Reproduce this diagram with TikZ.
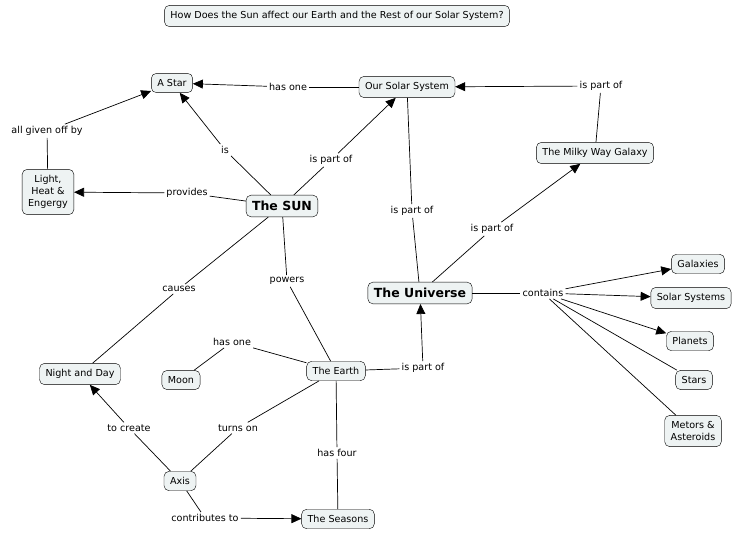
\documentclass[tikz,border=0pt]{standalone}
\usepackage{fontspec}
\setmainfont{DejaVu Sans}
\usetikzlibrary{arrows.meta}
\definecolor{cfill}{HTML}{EEF3F3}
\begin{document}
\begin{tikzpicture}[x=1pt,y=-1pt,
  concept/.style={draw=black,fill=cfill,rounded corners=5pt,font=\fontsize{9.6}{12}\selectfont,inner xsep=6pt,inner ysep=6pt,align=center},
  big/.style={concept,font=\fontsize{12.5}{14}\selectfont\bfseries},
  lbl/.style={font=\fontsize{9.6}{12}\selectfont,inner sep=2pt,fill=white},
  ln/.style={draw=black,line width=0.7pt},
  ar/.style={ln,-{Triangle[length=10pt,width=9pt]}}]
\useasboundingbox (0,0) rectangle (744,533);
\node[concept] (title) at (337,16) {How Does the Sun affect our Earth and the Rest of our Solar System?};
\node[concept] (star) at (172,83) {A Star};
\node[concept] (oss) at (407,87) {Our Solar System};
\node[concept] (mw) at (595,153) {The Milky Way Galaxy};
\node[concept] (light) at (48,192) {Light,\\Heat \&\\Engergy};
\node[big] (sun) at (282,206) {The SUN};
\node[big] (uni) at (420,293) {The Universe};
\node[concept] (gal) at (698,264) {Galaxies};
\node[concept] (ss) at (691,298) {Solar Systems};
\node[concept] (pl) at (690,341) {Planets};
\node[concept] (st) at (694,380) {Stars};
\node[concept] (met) at (693,431) {Metors \&\\Asteroids};
\node[concept] (nd) at (80,374) {Night and Day};
\node[concept] (moon) at (181,380) {Moon};
\node[concept] (earth) at (336,371) {The Earth};
\node[concept] (axis) at (180,481) {Axis};
\node[concept] (seas) at (338,519) {The Seasons};

\node[lbl] (l1) at (288,87) {has one};
\node[lbl] (l2) at (601,86) {is part of};
\node[lbl] (l3) at (47,131) {all given off by};
\node[lbl] (l4) at (225,150) {is};
\node[lbl] (l5) at (331,160) {is part of};
\node[lbl] (l6) at (187,193) {provides};
\node[lbl] (l7) at (412,211) {is part of};
\node[lbl] (l8) at (492,229) {is part of};
\node[lbl] (l9) at (179,289) {causes};
\node[lbl] (l10) at (287,281) {powers};
\node[lbl] (l11) at (543,293) {contains};
\node[lbl] (l12) at (232,342) {has one};
\node[lbl] (l13) at (423,368) {is part of};
\node[lbl] (l14) at (129,428) {to create};
\node[lbl] (l15) at (238,428) {turns on};
\node[lbl] (l16) at (337,453) {has four};
\node[lbl] (l17) at (205,518) {contributes to};

\draw[ln] (oss) -- (l1); \draw[ar] (l1) -- (star);
\draw[ln] (mw) -- (l2); \draw[ar] (l2) -- (oss);
\draw[ln] (light) -- (l3); \draw[ar] (l3) -- (star);
\draw[ln] (sun) -- (l4); \draw[ar] (l4) -- (star);
\draw[ln] (sun) -- (l5); \draw[ar] (l5) -- (oss);
\draw[ln] (sun) -- (l6); \draw[ar] (l6) -- (light);
\draw[ln] (oss) -- (l7); \draw[ln] (l7) -- (uni);
\draw[ln] (uni) -- (l8); \draw[ar] (l8) -- (mw);
\draw[ln] (sun) -- (l9); \draw[ln] (l9) -- (nd);
\draw[ln] (sun) -- (l10); \draw[ln] (l10) -- (earth);
\draw[ln] (uni) -- (l11);
\foreach \t in {gal,ss,pl} \draw[ar] (l11) -- (\t);
\draw[ln] (l11) -- (st); \draw[ln] (l11) -- (met);
\draw[ln] (earth) -- (l12); \draw[ln] (l12) -- (moon);
\draw[ln] (earth) -- (l13); \draw[ar] (l13) -- (uni);
\draw[ln] (axis) -- (l14); \draw[ar] (l14) -- (nd);
\draw[ln] (axis) -- (l15); \draw[ln] (l15) -- (earth);
\draw[ln] (earth) -- (l16); \draw[ln] (l16) -- (seas);
\draw[ln] (axis) -- (l17); \draw[ar] (l17) -- (seas);
\end{tikzpicture}
\end{document}
